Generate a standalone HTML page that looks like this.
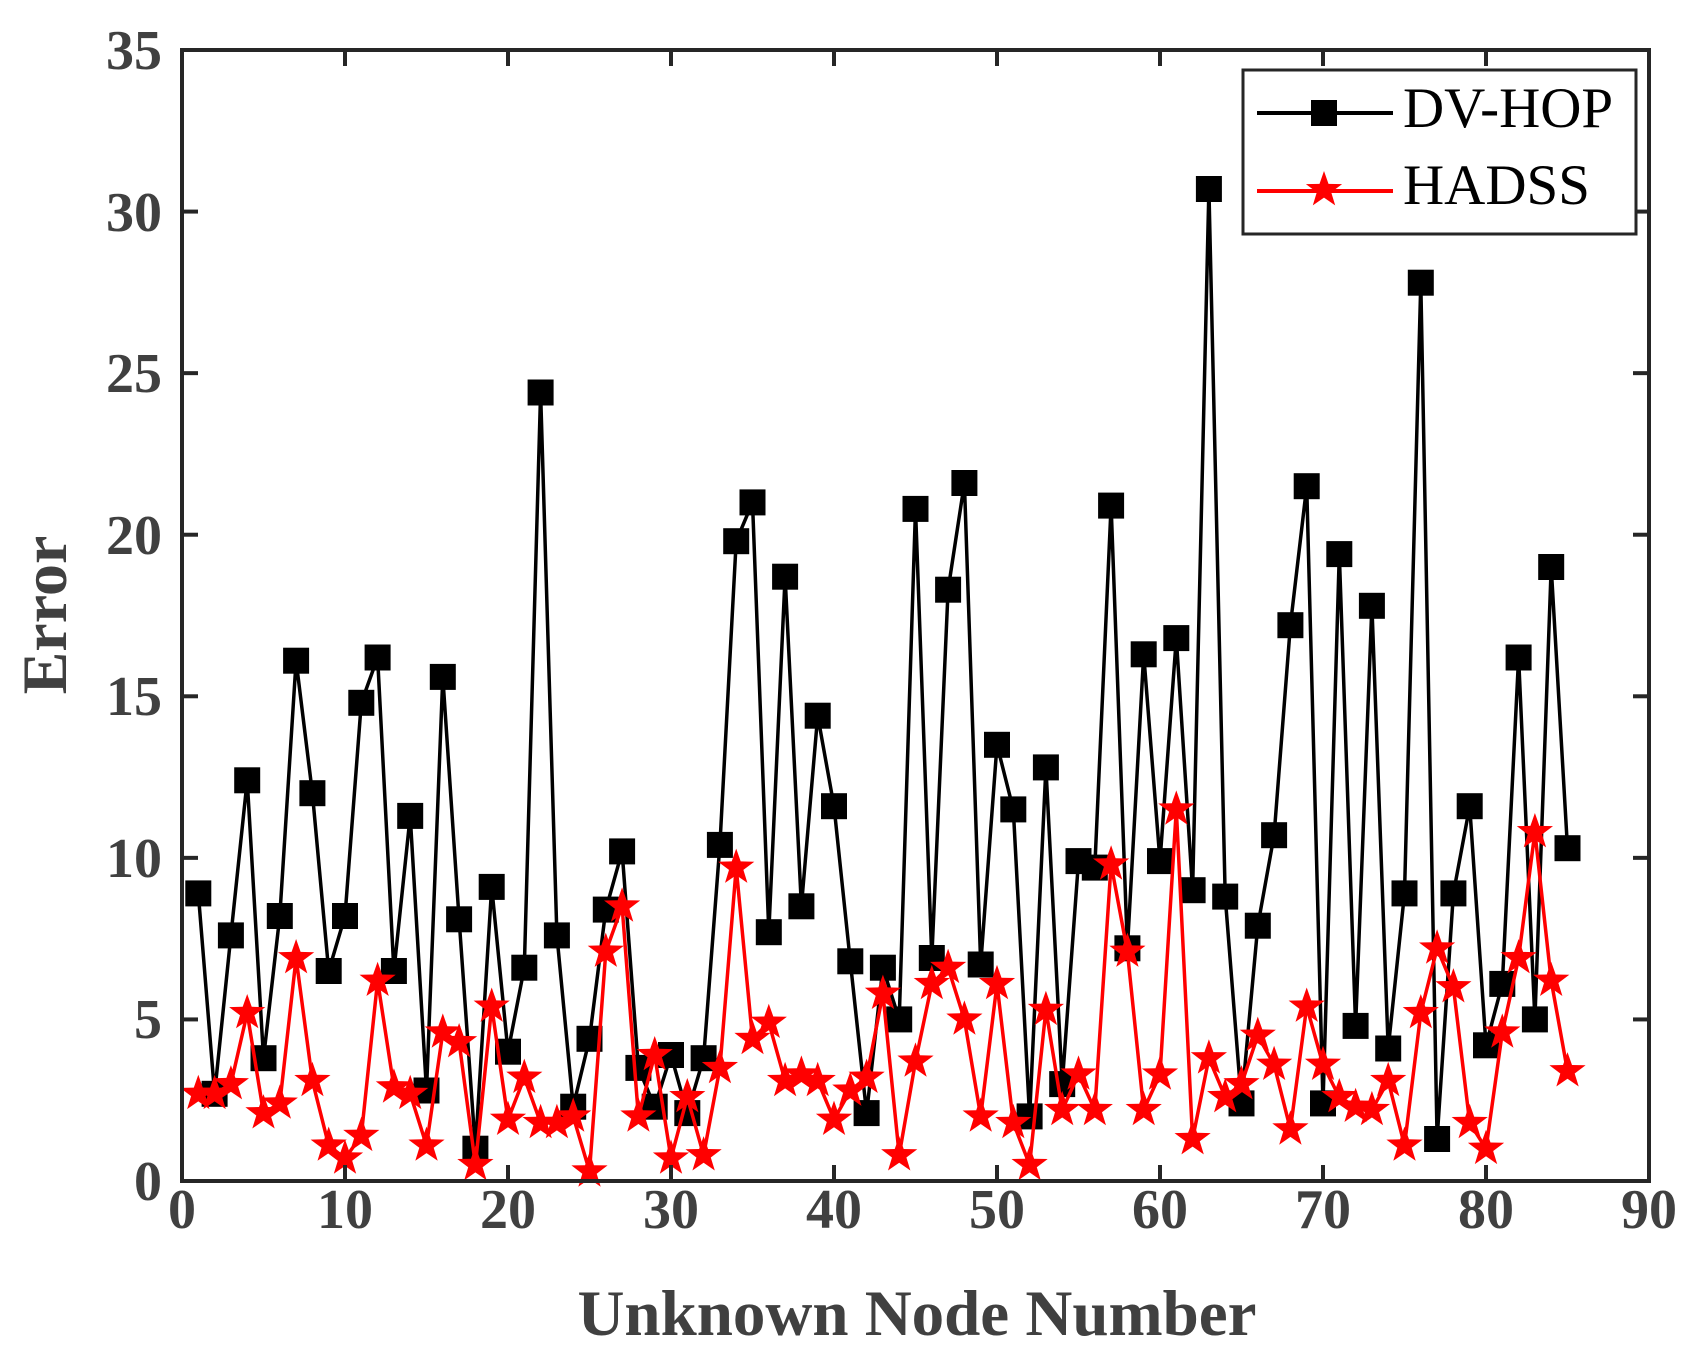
<!DOCTYPE html>
<html><head><meta charset="utf-8"><style>
html,body{margin:0;padding:0;background:#fff;}
svg{display:block;}
text{font-family:"Liberation Serif",serif;}
</style></head><body>
<svg id="s" width="1691" height="1354" viewBox="0 0 1691 1354" xmlns="http://www.w3.org/2000/svg">
<rect width="1691" height="1354" fill="#fff"/>
<g id="plot"></g>
<rect x="182" y="50" width="1467" height="1131" fill="none" stroke="#262626" stroke-width="4"/>
<g id="ticks" stroke="#262626" stroke-width="4"></g>
<g font-size="56" font-weight="bold" fill="#404040" text-anchor="middle">
<text x="182" y="1228">0</text><text x="345" y="1228">10</text><text x="508" y="1228">20</text><text x="671" y="1228">30</text><text x="834" y="1228">40</text><text x="997" y="1228">50</text><text x="1160" y="1228">60</text><text x="1323" y="1228">70</text><text x="1486" y="1228">80</text><text x="1649" y="1228">90</text>
</g>
<g font-size="56" font-weight="bold" fill="#404040" text-anchor="end">
<text x="162" y="1200">0</text><text x="162" y="1038">5</text><text x="162" y="877">10</text><text x="162" y="715">15</text><text x="162" y="554">20</text><text x="162" y="392">25</text><text x="162" y="231">30</text><text x="162" y="69">35</text>
</g>
<text x="917" y="1335" font-size="65" font-weight="bold" fill="#404040" text-anchor="middle">Unknown Node Number</text>
<text transform="translate(66,615) rotate(-90)" font-size="64" font-weight="bold" fill="#404040" text-anchor="middle">Error</text>
<rect x="1243" y="70" width="393" height="164" fill="#fff" stroke="#262626" stroke-width="3"/>
<line x1="1257" y1="113" x2="1393" y2="113" stroke="#000" stroke-width="4"/>
<rect x="1311" y="100" width="26" height="26" fill="#000"/>
<line x1="1257" y1="191" x2="1393" y2="191" stroke="#f00" stroke-width="4"/>
<g id="lstar"></g>
<text x="1403" y="127" font-size="57" fill="#000">DV-HOP</text>
<text x="1403" y="204" font-size="57" fill="#000">HADSS</text>
</svg>
<script>
var A=[8.9,2.7,7.6,12.4,3.8,8.2,16.1,12.0,6.5,8.2,14.8,16.2,6.5,11.3,2.8,15.6,8.1,1.0,9.1,4.0,6.6,24.4,7.6,2.3,4.4,8.4,10.2,3.5,2.3,3.9,2.1,3.8,10.4,19.8,21.0,7.7,18.7,8.5,14.4,11.6,6.8,2.1,6.6,5.0,20.8,6.9,18.3,21.6,6.7,13.5,11.5,2.0,12.8,3.0,9.9,9.7,20.9,7.2,16.3,9.9,16.8,9.0,30.7,8.8,2.4,7.9,10.7,17.2,21.5,2.4,19.4,4.8,17.8,4.1,8.9,27.8,1.3,8.9,11.6,4.2,6.1,16.2,5.0,19.0,10.3];
var B=[2.7,2.7,3.0,5.2,2.1,2.4,6.9,3.1,1.1,0.7,1.4,6.2,2.9,2.7,1.1,4.6,4.3,0.5,5.4,1.9,3.2,1.8,1.8,2.0,0.3,7.1,8.5,2.0,3.9,0.7,2.6,0.8,3.5,9.7,4.4,4.9,3.1,3.3,3.1,1.9,2.8,3.2,5.8,0.8,3.7,6.1,6.6,5.0,2.0,6.1,1.8,0.5,5.3,2.2,3.3,2.2,9.8,7.1,2.2,3.3,11.5,1.3,3.8,2.6,3.0,4.5,3.6,1.6,5.4,3.6,2.6,2.3,2.2,3.1,1.1,5.2,7.2,6.0,1.8,1.0,4.6,6.9,10.8,6.2,3.4];
function X(i){return 182+(i+1)*16.3;}function Y(v){return 1181-v*32.314;}
function star(cx,cy,R){var r=R*0.4,p=[];for(var k=0;k<10;k++){var a=-Math.PI/2+k*Math.PI/5,rr=k%2?r:R;p.push((cx+rr*Math.cos(a)).toFixed(1)+','+(cy+rr*Math.sin(a)).toFixed(1));}return '<polygon points="'+p.join(' ')+'" fill="#f00"/>';}
var h='',pa=[],pb=[];
for(var i=0;i<85;i++){pa.push(X(i)+','+Y(A[i]).toFixed(1));pb.push(X(i)+','+Y(B[i]).toFixed(1));}
h+='<polyline points="'+pa.join(' ')+'" fill="none" stroke="#000" stroke-width="3.5"/>';
for(i=0;i<85;i++)h+='<rect x="'+(X(i)-13)+'" y="'+(Y(A[i])-13).toFixed(1)+'" width="26" height="26" fill="#000"/>';
h+='<polyline points="'+pb.join(' ')+'" fill="none" stroke="#f00" stroke-width="3.5"/>';
for(i=0;i<85;i++)h+=star(X(i),Y(B[i]),19);
document.getElementById('plot').innerHTML=h;
document.getElementById('lstar').innerHTML=star(1324,190,19);
var t='';
for(var k=1;k<9;k++){var x=182+k*163;t+='<line x1="'+x+'" y1="1181" x2="'+x+'" y2="1165"/><line x1="'+x+'" y1="50" x2="'+x+'" y2="66"/>';}
for(k=1;k<7;k++){var y=1181-k*161.57;t+='<line x1="182" y1="'+y+'" x2="198" y2="'+y+'"/><line x1="1649" y1="'+y+'" x2="1633" y2="'+y+'"/>';}
document.getElementById('ticks').innerHTML=t;
</script>
</body></html>
